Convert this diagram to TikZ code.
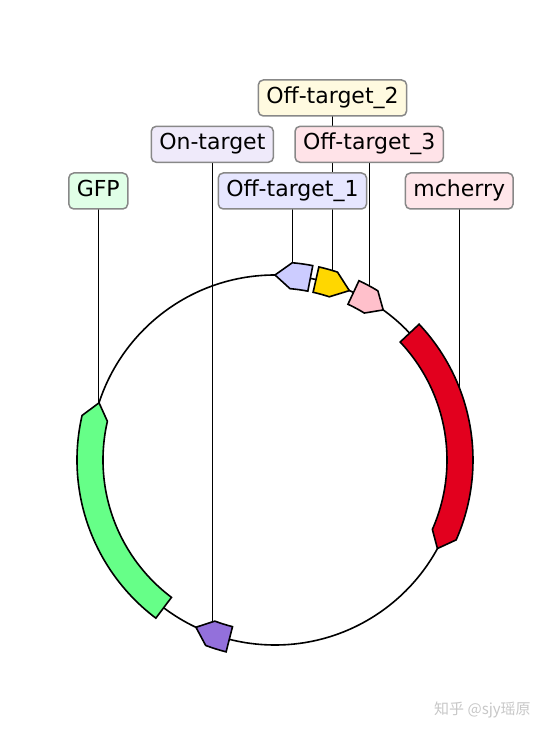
\documentclass[tikz,border=0pt]{standalone}
\usepackage{fontspec}
\setmainfont{DejaVu Sans}
\newfontfamily\cjkfont{Noto Sans CJK SC}
\usepackage{tikz}

\definecolor{gfpgreen}{HTML}{66FF88}
\definecolor{cherryred}{HTML}{E2001E}
\definecolor{offone}{HTML}{CCCCFF}
\definecolor{offtwo}{HTML}{FFD700}
\definecolor{offthree}{HTML}{FFC0CB}
\definecolor{ontarget}{HTML}{9370DB}
\definecolor{boxgray}{HTML}{888888}

\begin{document}
\begin{tikzpicture}[x=1pt, y=1pt,
        label/.style={draw=boxgray, line width=1.5pt, rounded corners=5pt, font=\fontsize{22}{26}\selectfont, text height=16pt, text depth=5pt, inner xsep=8pt, inner ysep=7.5pt},
        feature/.style={draw=black, line width=1.6pt, line join=miter},
        leader/.style={line width=0.8pt}]
        \useasboundingbox (-275, -275) rectangle (274, 460);

        % points where the leaders meet the ring
        \coordinate (gfp-pin) at (162.8:185);
        \coordinate (on-pin) at (-109.8:185);
        \coordinate (off1-pin) at (84.6:185);
        \coordinate (off2-pin) at (71.9:185);
        \coordinate (off3-pin) at (59.4:185);
        \coordinate (cherry-pin) at (5:185);

        \coordinate (gfp-pos) at (gfp-pin |- 0, 269);
        \coordinate (on-pos) at (on-pin |- 0, 315.7);
        \coordinate (off1-pos) at (off1-pin |- 0, 269);
        \coordinate (off2-pos) at (off2-pin |- 0, 362);
        \coordinate (off3-pos) at (off3-pin |- 0, 315.7);
        \coordinate (cherry-pos) at (cherry-pin |- 0, 269);

        \foreach \f in {gfp, on, off1, off2, off3, cherry}
          \draw[leader] (\f-pos) -- (\f-pin);

        \node[circle, draw, line width=1.6pt, minimum size=370pt, inner sep=0pt] (ring) at (0, 0) {};

        % features: flat end / shoulder / tip
        \foreach \a/\s/\b/\c in {-127/-193/-198/gfpgreen, 43.3/-23.8/-28.6/cherryred, 79/85/90/offone, 77.2/71.6/66.3/offtwo, 64.9/58.7/54.2/offthree, -104.3/-110.5/-115.3/ontarget}
          \draw[feature, fill=\c] (\a:198) arc[start angle=\a, end angle=\s, radius=198] -- (\b:185) -- (\s:172) arc[start angle=\s, end angle=\a, radius=172] -- cycle;

        \node[label, fill=gfpgreen!20] (gfp) at (gfp-pos) {GFP};
        \node[label, fill=ontarget!15] (on) at (on-pos) {On-target};
        \node[label, fill=offone!50] (off1) at (off1-pos) {Off-target\_1};
        \node[label, fill=offtwo!12] (off2) at (off2-pos) {Off-target\_2};
        \node[label, fill=offthree!45] (off3) at (off3-pos) {Off-target\_3};
        \node[label, fill=offthree!40] (cherry) at (cherry-pos) {mcherry};

        \node[font=\cjkfont\fontsize{15}{18}\selectfont, text=black!22] (mark) at (207.5, -250) {知乎 @sjy瑶原};
      \end{tikzpicture}
\end{document}
